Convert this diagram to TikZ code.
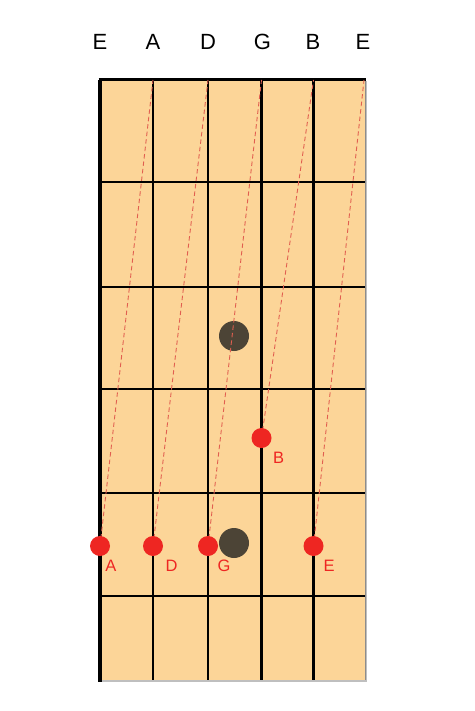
\documentclass[tikz,border=0pt]{standalone}
\usepackage{fontspec}
\setmainfont{Liberation Sans}
\definecolor{board}{RGB}{252,213,152}
\definecolor{reddot}{RGB}{238,38,34}
\definecolor{graydot}{RGB}{76,68,54}
\definecolor{dashred}{RGB}{225,95,80}
\begin{document}
\begin{tikzpicture}[x=1pt,y=-1pt,
  strline/.style={line width=2.1pt,black},
  fretline/.style={line width=2.2pt,black},
  rdot/.style={circle,fill=reddot,minimum size=20pt,inner sep=0pt},
  gdot/.style={circle,fill=graydot,minimum size=30pt,inner sep=0pt},
  guide/.style={dashred,line width=0.9pt,dash pattern=on 4.5pt off 3pt},
  toplab/.style={font=\fontsize{22}{22}\selectfont},
  notelab/.style={text=reddot,font=\fontsize{16.5}{16.5}\selectfont}]
\useasboundingbox (0,0) rectangle (474,711);
% board
\fill[black!25] (102,81) rectangle (367,682);
\fill[board] (100,79.5) rectangle (365,680);
\draw[black!45,line width=1pt] (365,80) -- (365,680);
% top labels
\foreach \x/\t [count=\i] in {100/E,153/A,208/D,262.5/G,313/B,363/E}
  \node[toplab] (L\i) at (\x,42) {\t};
% frets
\foreach \y in {182,287,389,493,596}
  \draw[fretline] (100,\y) -- (365,\y);
% strings
\foreach \x [count=\i] in {153,208,261.5,313.5}
  \draw[strline] (\x,80) -- (\x,680);
\draw[line width=3.5pt] (100,80) -- (100,681.5);
\draw[line width=3pt] (98.5,80) -- (365.5,80);
% string tops
\coordinate (t2) at (153,80);
\coordinate (t3) at (208,80);
\coordinate (t4) at (261.5,80);
\coordinate (t5) at (313.5,80);
\coordinate (t6) at (364,80);
% gray dots
\node[gdot] (g1) at (234,336) {};
\node[gdot] (g2) at (234,543) {};
% dot positions
\coordinate (pA) at (100,546);
\coordinate (pD) at (153,546);
\coordinate (pG) at (208,546);
\coordinate (pB) at (261.5,438);
\coordinate (pE) at (313.5,546);
% guide lines
\draw[guide] (pA) -- (t2);
\draw[guide] (pD) -- (t3);
\draw[guide] (pG) -- (t4);
\draw[guide] (pB) -- (t5);
\draw[guide] (pE) -- (t6);
% red dots
\node[rdot] (dA) at (pA) {};
\node[rdot] (dD) at (pD) {};
\node[rdot] (dG) at (pG) {};
\node[rdot] (dB) at (pB) {};
\node[rdot] (dE) at (pE) {};
% note labels
\node[notelab] (nA) at (111,566) {A};
\node[notelab] (nD) at (171.5,566) {D};
\node[notelab] (nG) at (224,566) {G};
\node[notelab] (nB) at (278.5,458) {B};
\node[notelab] (nE) at (329,566) {E};
\end{tikzpicture}
\end{document}
